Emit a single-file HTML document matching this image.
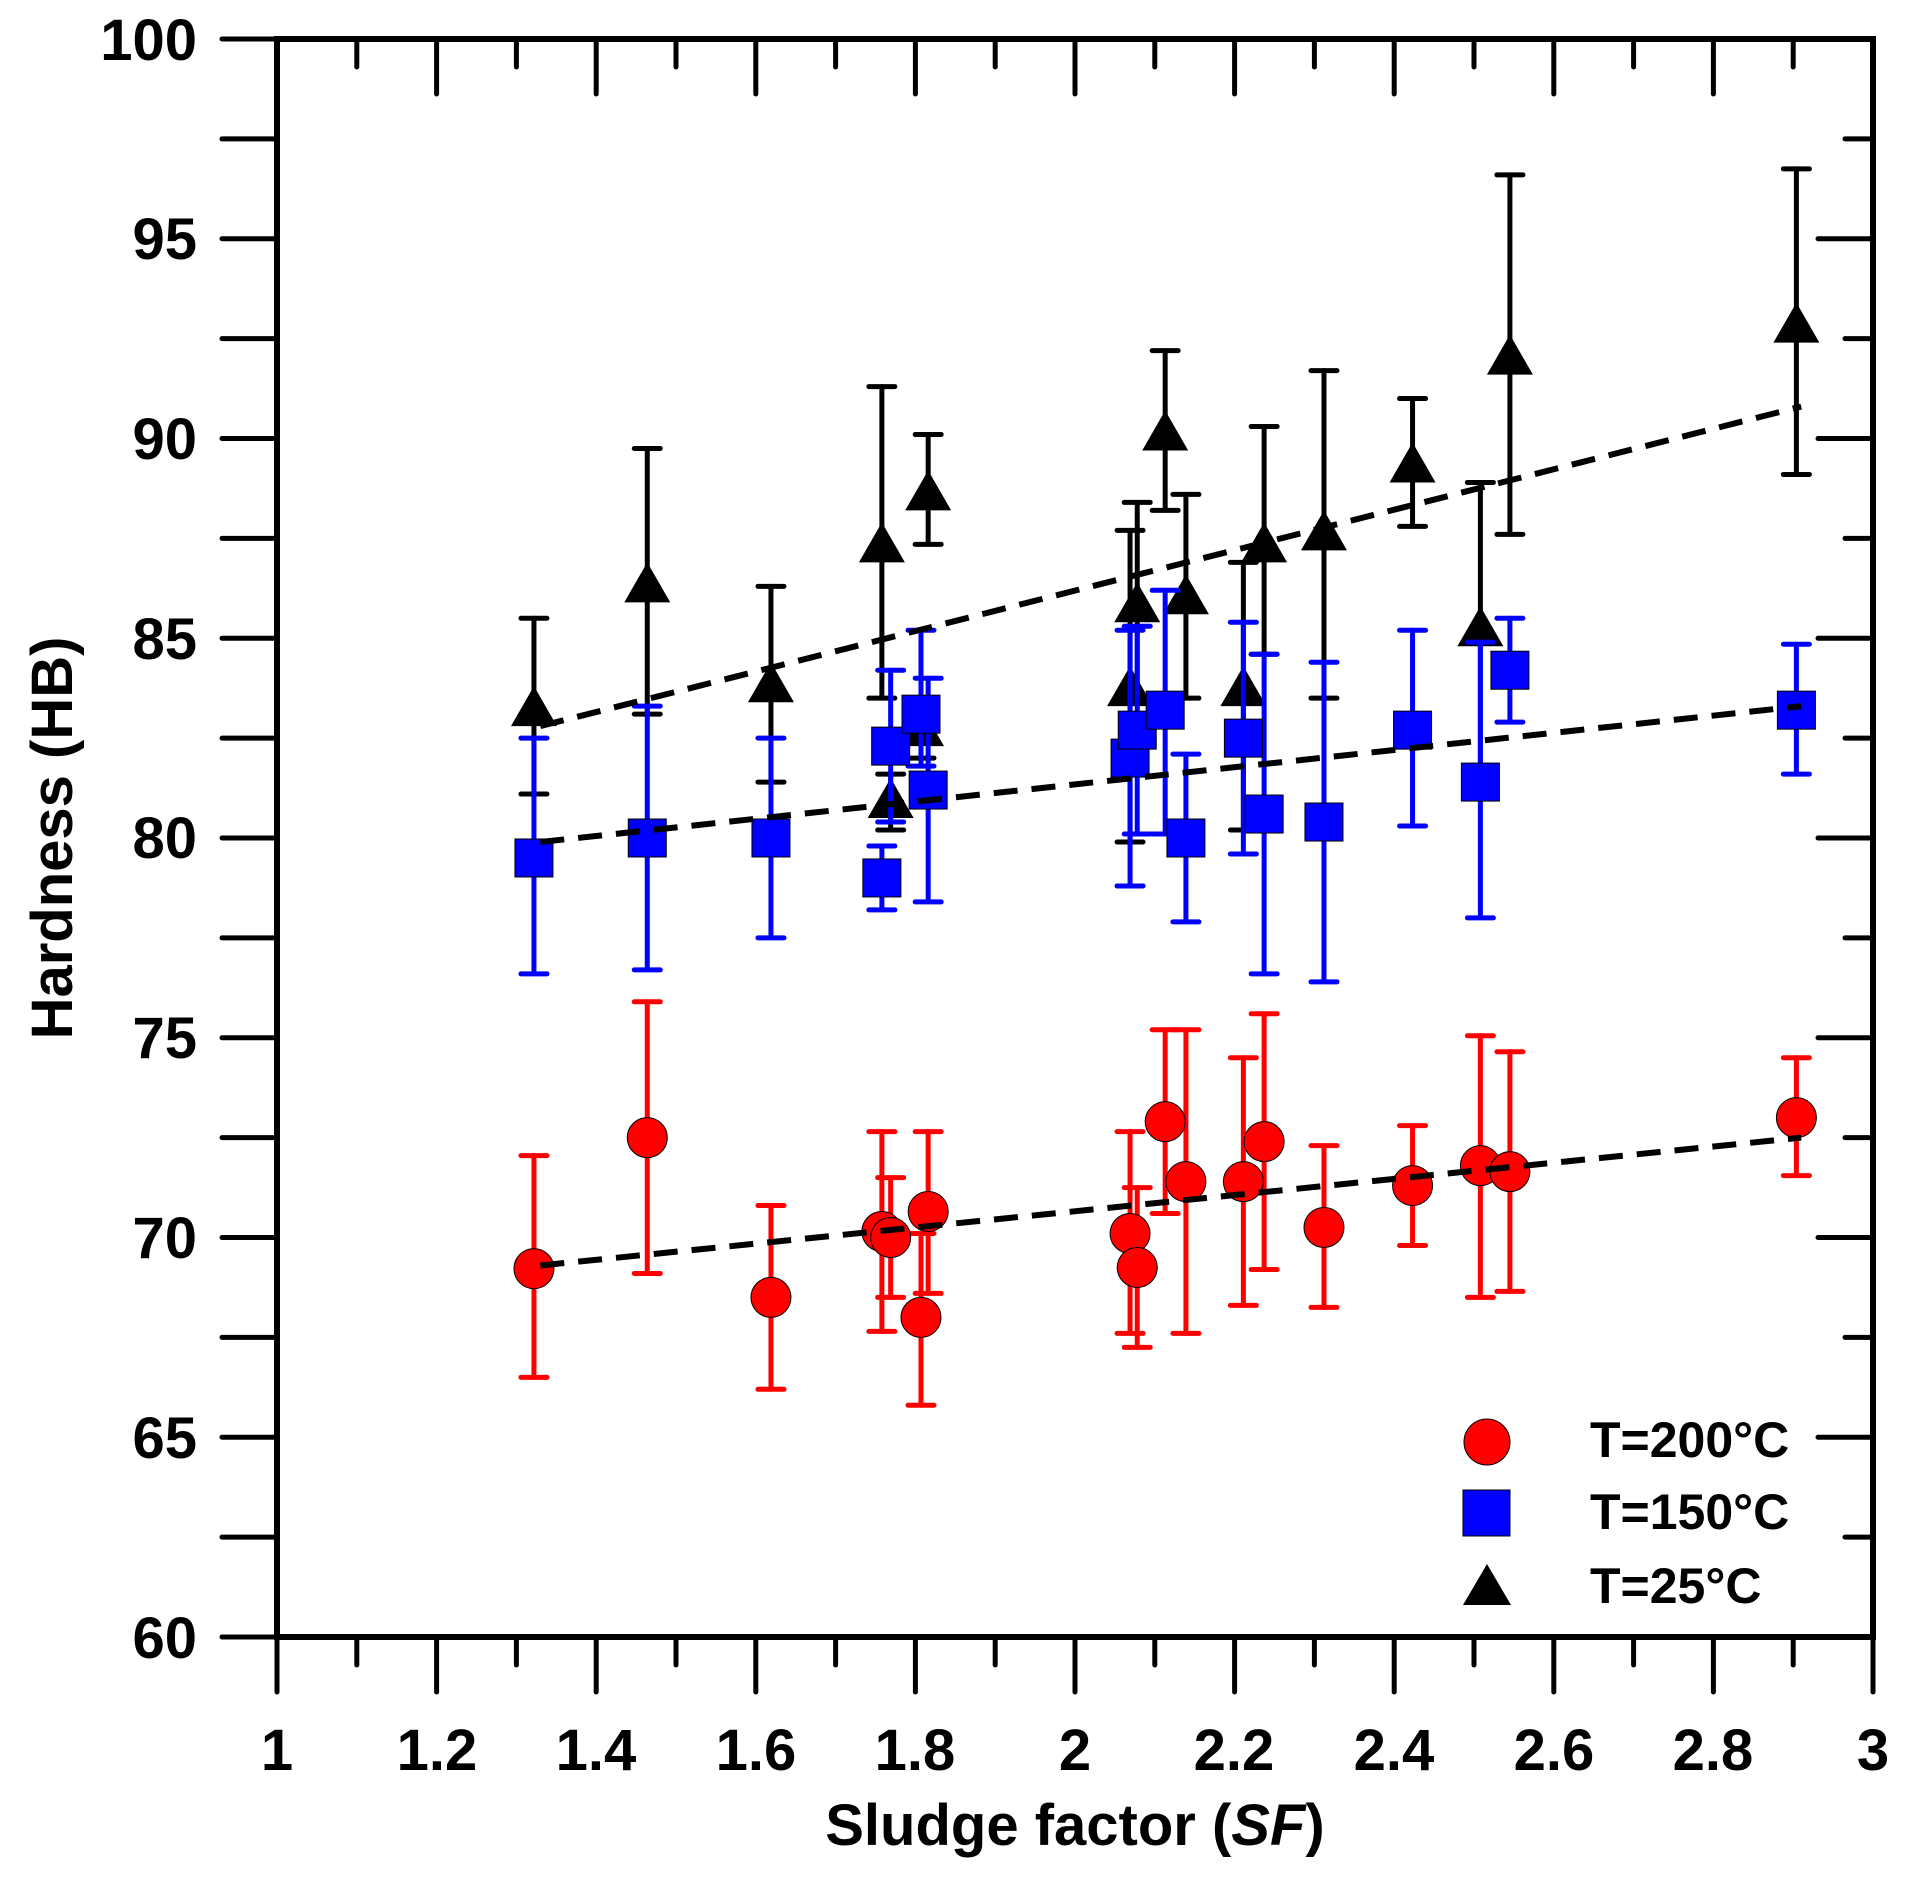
<!DOCTYPE html>
<html><head><meta charset="utf-8"><style>
html,body{margin:0;padding:0;background:#fff;}
svg{display:block;}
text{font-family:"Liberation Sans",Arial,sans-serif;font-weight:bold;fill:#000;}
</style></head><body>
<svg id="s" xmlns="http://www.w3.org/2000/svg" width="1914" height="1882" viewBox="0 0 1914 1882">
<rect width="1914" height="1882" fill="#fff"/>
<g id="ticks" stroke="#000" stroke-width="5" stroke-linecap="round"></g>
<g id="data"></g>
<rect x="277" y="39" width="1596" height="1598" fill="none" stroke="#000" stroke-width="6"/>
<g font-size="58" text-anchor="end">
<text x="197" y="60">100</text>
<text x="197" y="259">95</text>
<text x="197" y="459">90</text>
<text x="197" y="659">85</text>
<text x="197" y="858">80</text>
<text x="197" y="1058">75</text>
<text x="197" y="1258">70</text>
<text x="197" y="1458">65</text>
<text x="197" y="1658">60</text>
</g>
<g font-size="58" text-anchor="middle">
<text x="277" y="1770">1</text>
<text x="437" y="1770">1.2</text>
<text x="596" y="1770">1.4</text>
<text x="756" y="1770">1.6</text>
<text x="915" y="1770">1.8</text>
<text x="1075" y="1770">2</text>
<text x="1234" y="1770">2.2</text>
<text x="1394" y="1770">2.4</text>
<text x="1554" y="1770">2.6</text>
<text x="1713" y="1770">2.8</text>
<text x="1873" y="1770">3</text>
</g>
<text x="1075" y="1845" font-size="58" text-anchor="middle">Sludge factor (<tspan font-style="italic">SF</tspan>)</text>
<text transform="translate(72,838) rotate(-90)" font-size="58" text-anchor="middle">Hardness (HB)</text>
<circle cx="1487" cy="1442" r="23" fill="#f00" stroke="#000" stroke-width="1"/>
<rect x="1463" y="1490" width="47" height="46" fill="#00f" stroke="#000" stroke-width="1"/>
<polygon points="1487,1564 1511,1605 1463,1605" fill="#000"/>
<g font-size="50">
<text x="1590" y="1457">T=200°C</text>
<text x="1590" y="1529">T=150°C</text>
<text x="1590" y="1603">T=25°C</text>
</g>
</svg>
<script>
var NS="http://www.w3.org/2000/svg";
function X(v){return 277+(v-1)*798;}
function Y(v){return 39+(100-v)*39.95;}
function el(p,n,a){var e=document.createElementNS(NS,n);for(var k in a)e.setAttribute(k,a[k]);p.appendChild(e);return e;}
var T=document.getElementById('ticks');
for(var i=0;i<=16;i++){var y=Y(60+i*2.5);var maj=i%2==0;
el(T,'line',{x1:222,y1:y,x2:277,y2:y});
el(T,'line',{x1:1873-(maj?55:28),y1:y,x2:1873,y2:y});}
for(var i=0;i<=20;i++){var x=X(1+i*0.1);var maj=i%2==0;
el(T,'line',{x1:x,y1:1637,x2:x,y2:1637+(maj?55:28)});
el(T,'line',{x1:x,y1:39,x2:x,y2:39+(maj?55:28)});}
var xs=[1.322,1.464,1.619,1.758,1.769,1.807,1.816,2.069,2.078,2.113,2.139,2.211,2.237,2.312,2.423,2.508,2.545,2.904];
var red=[[69.22,66.5,72.05],[72.5,69.1,75.9],[68.5,66.2,70.8],[70.15,67.65,72.65],[70.0,68.5,71.5],[68.0,65.8,70.1],[70.65,68.6,72.65],[70.1,67.6,72.65],[69.25,67.25,71.25],[72.9,70.6,75.2],[71.4,67.6,75.2],[71.4,68.3,74.5],[72.4,69.2,75.6],[70.25,68.25,72.3],[71.3,69.8,72.8],[71.8,68.5,75.05],[71.65,68.65,74.65],[73.0,71.55,74.5]];
var blue=[[79.5,76.6,82.5],[80.0,76.7,83.3],[80.0,77.5,82.5],[79.0,78.2,79.8],[82.3,80.4,84.2],[83.1,81.8,85.2],[81.2,78.4,84.0],[82.0,78.8,85.2],[82.7,80.1,85.3],[83.2,80.1,86.2],[80.0,77.9,82.1],[82.5,79.6,85.4],[80.6,76.6,84.6],[80.4,76.4,84.4],[82.7,80.3,85.2],[81.4,78.0,84.9],[84.2,82.9,85.5],[83.2,81.6,84.85]];
var blk=[[83.2,81.1,85.5],[86.3,83.1,89.75],[83.8,81.4,86.3],[87.3,83.5,91.3],[80.9,80.2,81.6],[82.7,82.0,83.4],[88.6,87.35,90.1],[83.7,79.9,87.7],[85.8,83.5,88.4],[90.1,88.2,92.2],[86.0,83.5,88.6],[83.7,80.2,86.9],[87.3,84.6,90.3],[87.6,83.5,91.7],[89.3,87.8,91.0],[85.2,81.6,88.9],[92.0,87.6,96.6],[92.8,89.1,96.75]];
var D=document.getElementById('data');
function series(arr,col,type){
 var g=el(D,'g',{stroke:col,'stroke-width':5,'stroke-linecap':'round'});
 arr.forEach(function(d,i){var x=X(xs[i]);
  el(g,'line',{x1:x,y1:Y(d[1]),x2:x,y2:Y(d[2])});
  el(g,'line',{x1:x-13,y1:Y(d[1]),x2:x+13,y2:Y(d[1])});
  el(g,'line',{x1:x-13,y1:Y(d[2]),x2:x+13,y2:Y(d[2])});});
 arr.forEach(function(d,i){var x=X(xs[i]),y=Y(d[0]);
  if(type=='c')el(D,'circle',{cx:x,cy:y,r:20,fill:'#f00',stroke:'#000','stroke-width':1});
  else if(type=='s')el(D,'rect',{x:x-19,y:y-19,width:38,height:38,fill:'#00f',stroke:'#000','stroke-width':1});
  else el(D,'polygon',{points:(x)+','+(y-24)+' '+(x+23)+','+(y+16)+' '+(x-23)+','+(y+16),fill:'#000'});});
}
series(blk,'#000','t');
series(blue,'#00f','s');
series(red,'#f00','c');
function fit(a,b,c,d){el(D,'line',{x1:X(a),y1:Y(b),x2:X(c),y2:Y(d),stroke:'#000','stroke-width':6,'stroke-dasharray':'24,14'});}
fit(1.33,82.8,2.91,90.8);
fit(1.33,79.9,2.91,83.3);
fit(1.33,69.3,2.91,72.5);
</script>
</body></html>
